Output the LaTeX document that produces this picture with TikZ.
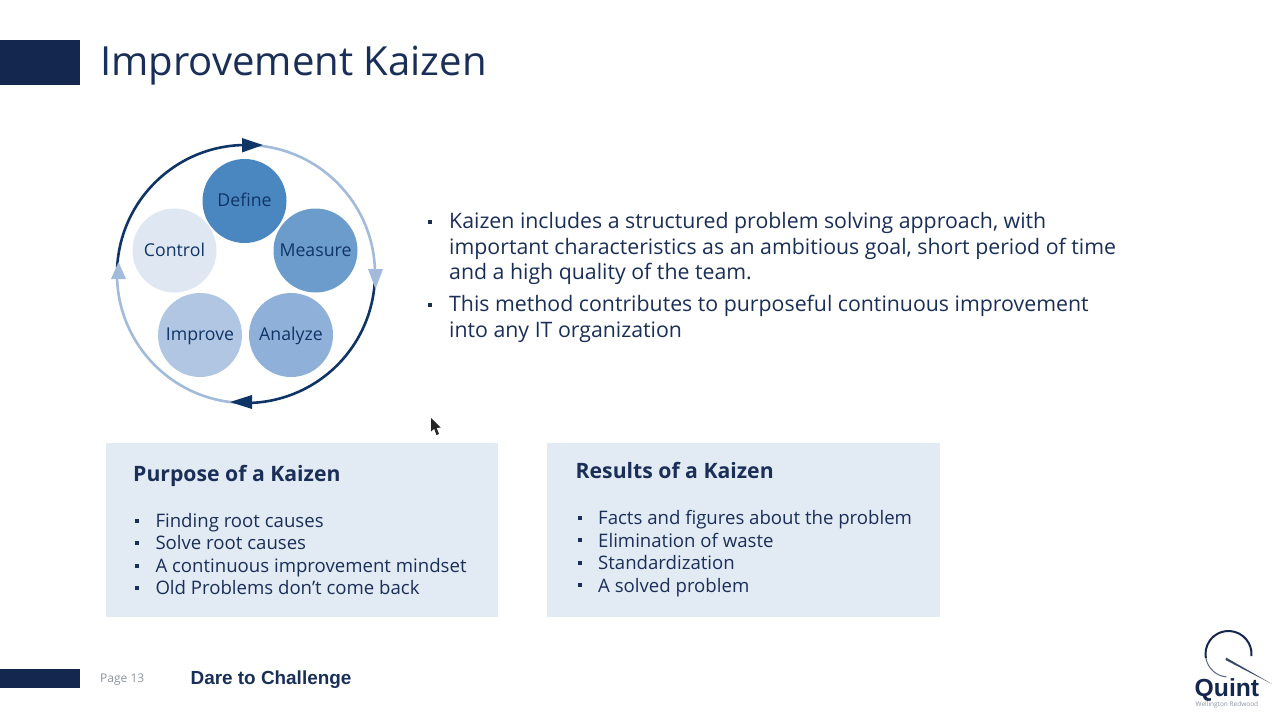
\documentclass[tikz,border=0pt]{standalone}
\usepackage{fontspec}
\setmainfont{Open Sans}
\newfontfamily\arialf{Liberation Sans}
\definecolor{navy}{HTML}{14274F}
\definecolor{ink}{HTML}{1A2F58}
\definecolor{dark}{HTML}{0F3566}
\definecolor{pale}{HTML}{A3BBDA}
\definecolor{boxc}{HTML}{E2EAF4}
\definecolor{grayt}{HTML}{8C93A0}
\definecolor{cdef}{HTML}{4A87C0}
\definecolor{cmea}{HTML}{6C9CCC}
\definecolor{cana}{HTML}{8FB0D8}
\definecolor{cimp}{HTML}{B0C6E2}
\definecolor{ccon}{HTML}{DFE8F2}
\tikzset{
  stage/.style={circle,minimum size=84pt,inner sep=0pt,text=dark,text height=14pt,text depth=2.5pt,font=\fontsize{17.7}{17.7}\selectfont},
  bar/.style={fill=navy,draw=none},
  panel/.style={fill=boxc,draw=none,anchor=north west,minimum width=392.5pt,minimum height=174pt,inner sep=0pt},
  bodytext/.style={anchor=base west,inner sep=0pt,text=ink,font=\fontsize{21.3}{21.3}\selectfont},
  headtext/.style={anchor=base west,inner sep=0pt,text=ink,font=\fontsize{21.2}{21.2}\selectfont\bfseries},
  smalltext/.style={anchor=base west,inner sep=0pt,text=ink,font=\fontsize{18.6}{18.6}\selectfont},
  ringd/.style={draw=dark,line width=2.6pt},
  ringl/.style={draw=pale,line width=2.6pt}
}
\newcommand{\sqb}[2]{\fill[ink] (#1-2,#2-2) rectangle (#1+2,#2+2);}
\newcommand{\sqs}[2]{\fill[ink] (#1-2,#2-2) rectangle (#1+2,#2+2);}
\begin{document}
\begin{tikzpicture}[x=1pt,y=-1pt]
\useasboundingbox (0,0) rectangle (1280,720);
\fill[white] (0,0) rectangle (1280,720);
% header / footer
\fill[bar] (0,40) rectangle (80,85);
\fill[bar] (0,669) rectangle (80,688);
\node[anchor=base west,inner sep=0pt,text=ink,font=\fontsize{40.1}{40.1}\selectfont] (title) at (100,75) {Improvement Kaizen};
\node[anchor=base west,inner sep=0pt,text=grayt,font=\fontsize{12}{12}\selectfont] (page) at (100,682) {Page 13};
\node[anchor=base west,inner sep=0pt,text=ink,font=\fontsize{18.9}{18.9}\selectfont\arialf\bfseries] (dare) at (190.5,684.5) {Dare to Challenge};
% cycle ring (explicit units: angles counted counter-clockwise on screen)
\coordinate (c) at (246,274);
\draw[ringd] (c) ++(177:129pt) arc[start angle=177,end angle=87,radius=129pt];
\draw[ringl] (c) ++(87:129pt) arc[start angle=87,end angle=-2,radius=129pt];
\draw[ringd] (c) ++(-2:129pt) arc[start angle=-2,end angle=-93,radius=129pt];
\draw[ringl] (c) ++(267:129pt) arc[start angle=267,end angle=177,radius=129pt];
\fill[dark] (263,145) -- (242,138) -- (242,152.5) -- cycle;
\fill[pale] (375.5,289) -- (368,269) -- (383,269) -- cycle;
\fill[dark] (230,402) -- (252,395) -- (252,409) -- cycle;
\fill[pale] (118.5,262) -- (111,279) -- (126,279) -- cycle;
% stages
\node[stage,fill=cdef] (define) at (244.5,201) {Define};
\node[stage,fill=cmea] (measure) at (315.5,250.5) {Measure};
\node[stage,fill=cana] (analyze) at (291,335) {Analyze};
\node[stage,fill=cimp] (improve) at (200,335) {Improve};
\node[stage,fill=ccon] (control) at (174.5,250.5) {Control};
% main bullets
\sqb{430}{222}
\node[bodytext] (t1) at (449,228.7) {Kaizen includes a structured problem solving approach, with};
\node[bodytext] (t2) at (449,254.2) {important characteristics as an ambitious goal, short period of time};
\node[bodytext] (t3) at (449,279.7) {and a high quality of the team.};
\sqb{430}{305}
\node[bodytext] (t4) at (449,311.7) {This method contributes to purposeful continuous improvement};
\node[bodytext] (t5) at (449,337.2) {into any IT organization};
% purpose panel
\node[panel] (purpose) at (105.5,443) {};
\node[headtext] (ph) at (133,481.5) {Purpose of a Kaizen};
\sqs{137}{521}
\node[smalltext] (p1) at (155.3,527) {Finding root causes};
\sqs{137}{543}
\node[smalltext] (p2) at (155.3,549.5) {Solve root causes};
\sqs{137}{566}
\node[smalltext] (p3) at (155.3,572) {A continuous improvement mindset};
\sqs{137}{588}
\node[smalltext] (p4) at (155.3,594.5) {Old Problems don’t come back};
% results panel
\node[panel] (results) at (547.2,443) {};
\node[headtext] (rh) at (575.5,478.7) {Results of a Kaizen};
\sqs{580}{518}
\node[smalltext] (r1) at (598,524.5) {Facts and figures about the problem};
\sqs{580}{540}
\node[smalltext] (r2) at (598,547) {Elimination of waste};
\sqs{580}{563}
\node[smalltext] (r3) at (598,569.5) {Standardization};
\sqs{580}{585}
\node[smalltext] (r4) at (598,592) {A solved problem};
% mouse pointer
\fill[black!85] (431,418) -- (431,431.5) -- (434.2,428.8) -- (436.5,435) -- (439,434) -- (436.6,428) -- (440.5,427.5) -- cycle;
% logo
\coordinate (q) at (1228.5,654);
\draw[navy,line width=2pt] (q) ++(-5:23pt) arc[start angle=-5,end angle=190,radius=23pt];
\draw[navy!70,line width=1pt] (q) ++(190:23pt) arc[start angle=190,end angle=265,radius=23pt];
\fill[navy!85] (1226,657.5) -- (1272,684) -- (1225.5,660) -- cycle;
\node[anchor=base west,inner sep=0pt,text=navy,font=\fontsize{24.7}{24.7}\selectfont\arialf\bfseries] (quint) at (1194.5,696.5) {Quint};
\node[anchor=base west,inner sep=0pt,text=grayt,font=\fontsize{6.5}{6.5}\selectfont] (wr) at (1195.5,706) {Wellington Redwood};
\end{tikzpicture}
\end{document}
